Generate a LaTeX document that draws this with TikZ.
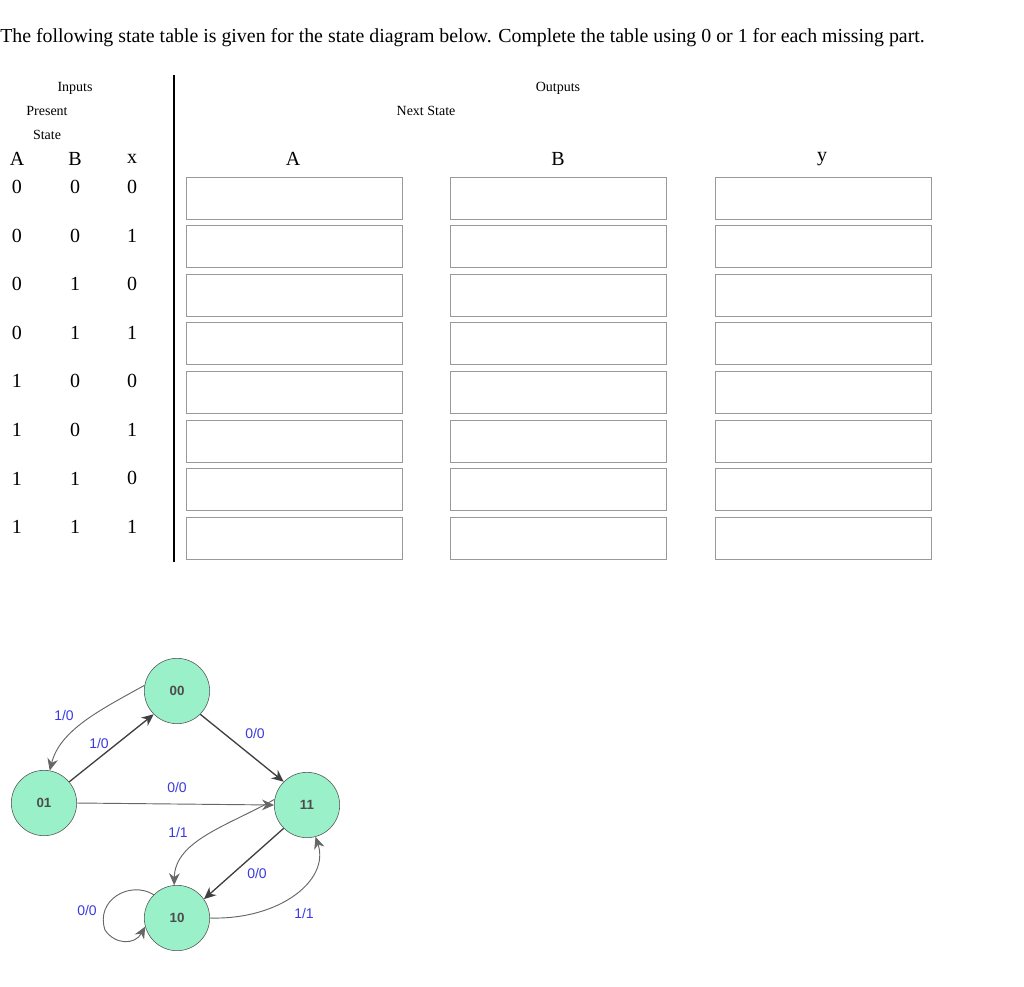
\documentclass[tikz,border=0pt]{standalone}
\usepackage{fontspec}
\setmainfont{Liberation Serif}
\newfontfamily\lsans{Liberation Sans}
\usetikzlibrary{arrows.meta}
\definecolor{stfill}{HTML}{9AF0C8}
\definecolor{lbl}{HTML}{3A3AE0}
\begin{document}
\begin{tikzpicture}[x=0.75pt,y=-0.75pt,
  box/.style={draw=gray!80,minimum width=162pt,minimum height=31.5pt,inner sep=0pt},
  cell/.style={font=\fontsize{15}{15}\selectfont,inner sep=0pt},
  small/.style={font=\fontsize{10.5}{10.5}\selectfont,inner sep=0pt},
  st/.style={circle,draw=gray!60!black,fill=stfill,minimum size=49pt,inner sep=0pt,font=\lsans\bfseries\fontsize{10}{10}\selectfont,text=black!70},
  tr/.style={-{Stealth[length=9pt,width=8pt]},gray!80!black,line width=0.7pt},
  trd/.style={-{Stealth[length=9pt,width=8pt]},black!75,line width=1pt},
  lb/.style={font=\lsans\fontsize{10.5}{10.5}\selectfont,text=lbl,inner sep=1pt}]
\useasboundingbox (0,0) rectangle (1024,986);
\node[anchor=west,inner sep=0pt,font=\fontsize{14.9}{14.9}\selectfont] (title) at (0,38) {The following state table is given for the state diagram below. Complete the table using 0 or 1 for each missing part.};
\node[small] (inp) at (75,88) {Inputs};
\node[small] (pre) at (47,111) {Present};
\node[small] (sta) at (47,135) {State};
\node[small] (out) at (558,88) {Outputs};
\node[small] (nxt) at (426,111) {Next State};
\draw[black,line width=0.8pt] (174,75) -- (174,562);
\node[cell] (hA) at (17,159) {A};
\node[cell] (hB) at (75,159) {B};
\node[cell] (hx) at (132,159) {x};
\node[cell] (hNA) at (293,159) {A};
\node[cell] (hNB) at (558,159) {B};
\node[cell] (hy) at (822,159) {y};
\foreach \a/\b/\c [count=\i from 0] in {0/0/0,0/0/1,0/1/0,0/1/1,1/0/0,1/0/1,1/1/0,1/1/1}{
  \pgfmathsetmacro\yy{187+48.57*\i}
  \node[cell] (a\i) at (17,\yy) {\a};
  \node[cell] (b\i) at (75,\yy) {\b};
  \node[cell] (c\i) at (132,\yy) {\c};
  \pgfmathsetmacro\yb{198+48.57*\i}
  \node[box] (p\i) at (294,\yb) {};
  \node[box] (q\i) at (558.5,\yb) {};
  \node[box] (r\i) at (823.5,\yb) {};
}
% state diagram
\node[st] (s00) at (177,691) {00};
\node[st] (s01) at (44,803) {01};
\node[st] (s11) at (307,805) {11};
\node[st] (s10) at (177,918) {10};
\draw[tr] (s00.170) .. controls (100,710) and (60,730) .. (s01.80);
\node[lb] (l1) at (64,715) {1/0};
\draw[trd] (s01.40) -- (s00.225);
\node[lb] (l2) at (99,743) {1/0};
\draw[trd] (s00.-45) -- (s11.135);
\node[lb] (l3) at (255,733) {0/0};
\draw[tr] (s01.0) -- (s11.180);
\node[lb] (l4) at (177,787) {0/0};
\draw[tr] (s11.170) .. controls (230,825) and (175,840) .. (s10.95);
\node[lb] (l5) at (178,832) {1/1};
\draw[trd] (s11.-135) -- (s10.35);
\node[lb] (l6) at (257,873) {0/0};
\draw[tr] (s10.0) .. controls (280,920) and (330,880) .. (s11.-75);
\node[lb] (l7) at (304,913) {1/1};
\draw[tr] (s10.135) .. controls (130,880) and (95,900) .. (105,930) .. controls (115,945) and (135,945) .. (s10.-165);
\node[lb] (l8) at (87,910) {0/0};
\end{tikzpicture}
\end{document}
